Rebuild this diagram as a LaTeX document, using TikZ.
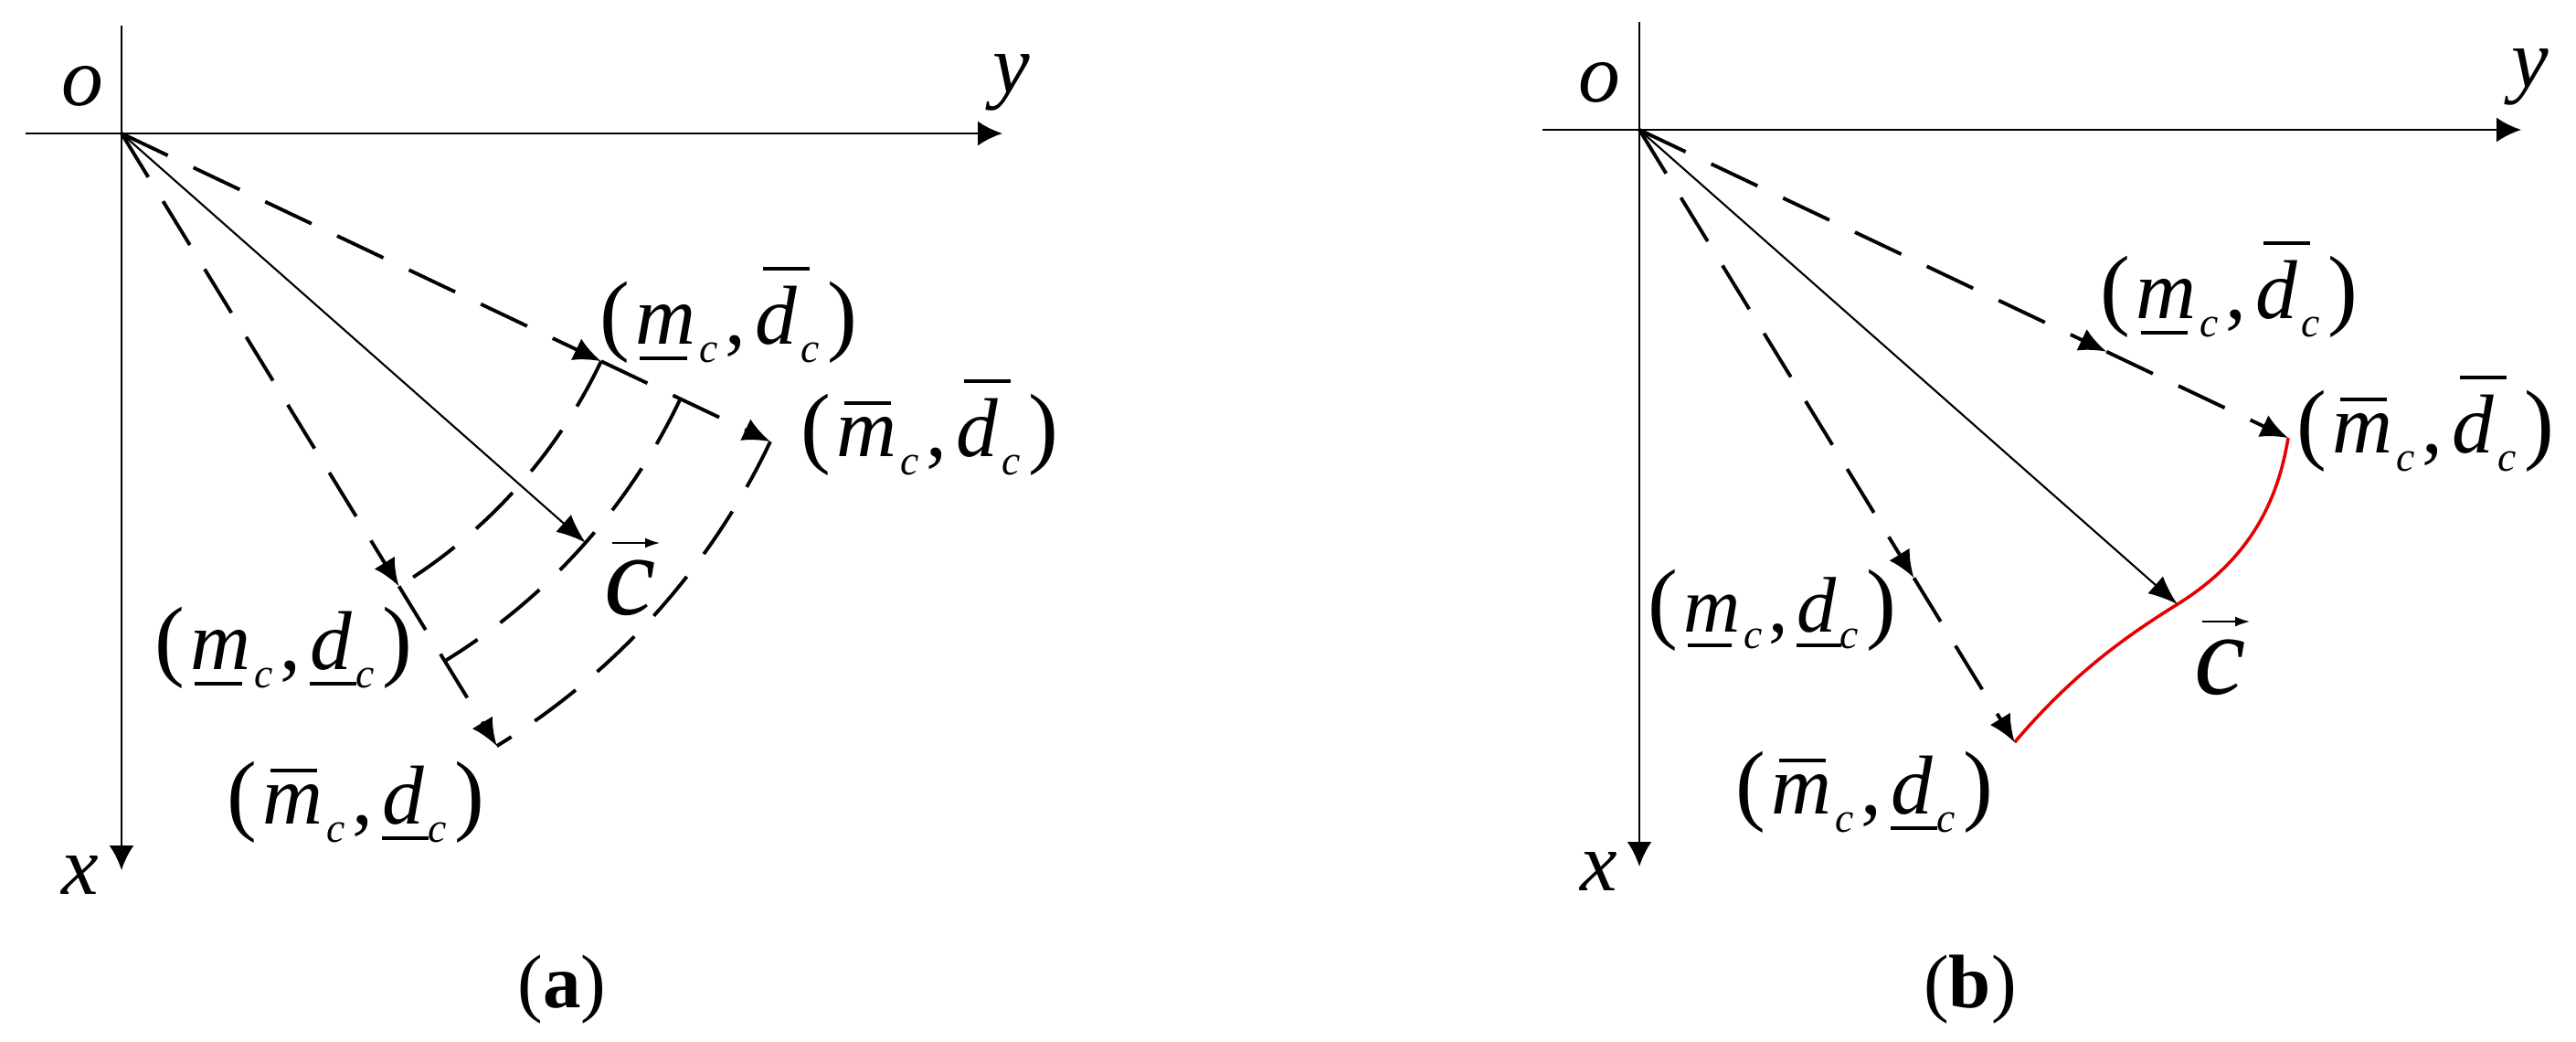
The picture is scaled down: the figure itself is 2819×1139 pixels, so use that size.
\documentclass[tikz,border=0pt]{standalone}
\usepackage{fontspec}
\setmainfont{Liberation Serif}
\usetikzlibrary{arrows.meta,calc}
\definecolor{cred}{RGB}{228,0,0}
\newcommand{\lsc}{\raisebox{-0.22em}{\fontsize{13}{13}\selectfont\itshape c}}
\newcommand{\om}{\rlap{\kern0.09em\raisebox{0.61em}{\rule{0.56em}{0.045em}}}{\itshape m}}
\newcommand{\od}{\rlap{\kern0.1em\raisebox{0.87em}{\rule{0.56em}{0.045em}}}{\itshape d}}
\newcommand{\um}{\rlap{\kern0.05em\raisebox{-0.2em}{\rule{0.56em}{0.045em}}}{\itshape m}}
\newcommand{\ud}{\rlap{\kern0.0em\raisebox{-0.2em}{\rule{0.56em}{0.045em}}}{\itshape d}}
\newcommand{\lpar}{{\fontsize{28}{30}\selectfont(}}
\newcommand{\rpar}{{\fontsize{28}{30}\selectfont)}}
\newcommand{\cpair}[2]{\lpar\kern0.07em#1\kern0.04em\lsc\kern0.08em,\kern0.11em#2\kern0.05em\lsc\kern0.1em\rpar}
\tikzset{
  axis/.style={line width=0.8pt, -{Latex[length=0.27cm,width=0.27cm]}},
  ray/.style={line width=1.1pt, dash pattern=on 0.56cm off 0.31cm, -{Latex[length=0.3cm,width=0.26cm]}},
  arcdash/.style={line width=1.1pt, dash pattern=on 0.56cm off 0.31cm},
  cvec/.style={line width=0.6pt, -{Latex[length=0.32cm,width=0.25cm]}},
  vecmark/.style={line width=0.5pt, -{Latex[length=0.16cm,width=0.11cm]}},
  redcurve/.style={cred, line width=1pt},
  lab/.style={font=\fontsize{26}{30}\selectfont, inner sep=0pt},
  axlab/.style={font=\fontsize{26}{30}\selectfont\itshape, inner sep=0pt},
  clab/.style={font=\fontsize{36}{40}\selectfont\itshape, inner sep=0pt},
  captext/.style={font=\fontsize{23.6}{28}\selectfont, inner sep=0pt},
}
\begin{document}
\begin{tikzpicture}[x=0.01cm, y=-0.01cm]
\useasboundingbox (0,0) rectangle (2819,1139);
% ---------------- panel (a)
\coordinate (Oa) at (133,146);
\coordinate (Ha) at (28,146);
\coordinate (Ya) at (1097,146);
\coordinate (Va) at (133,28);
\coordinate (Xa) at (133,952);
\draw[axis] (Ha) -- (Ya);
\draw[axis] (Va) -- (Xa);
\coordinate (Ua1) at ($(Oa)+(25.4:581)$);
\coordinate (Ua2) at ($(Oa)+(25.4:677)$);
\coordinate (Ua3) at ($(Oa)+(25.4:786)$);
\coordinate (La1) at ($(Oa)+(58.5:581)$);
\coordinate (La2) at ($(Oa)+(58.5:677)$);
\coordinate (La3) at ($(Oa)+(58.5:786)$);
\coordinate (Ca) at ($(Oa)+(41.4:677)$);
\draw[arcdash] (Ua1) arc[start angle=25.4, end angle=58.5, radius=581];
\draw[arcdash] (Ua2) arc[start angle=25.4, end angle=58.5, radius=677];
\draw[arcdash] (Ua3) arc[start angle=25.4, end angle=58.5, radius=786];
\draw[ray] (Oa) -- (Ua1);
\draw[ray] (Ua1) -- (Ua3);
\draw[ray] (Oa) -- (La1);
\draw[ray] (La1) -- (La3);
\draw[cvec] (Oa) -- (Ca);
\node[axlab] (oa) at (90,94) {o};
\node[axlab] (ya) at (1107,90) {y};
\node[axlab] (xa) at (88,957) {x};
\node[lab, anchor=base west] (labUa1) at (656,376) {\cpair{\um}{\od}};
\node[lab, anchor=base west] (labUa3) at (876,499) {\cpair{\om}{\od}};
\node[lab, anchor=base west] (labLa1) at (169,732) {\cpair{\um}{\ud}};
\node[lab, anchor=base west] (labLa3) at (248,901) {\cpair{\om}{\ud}};
\node[clab, anchor=base] (labCa) at (690,672) {c};
\coordinate (vaL) at ($(labCa.base)+(-20,-78)$);
\coordinate (vaR) at ($(labCa.base)+(32,-78)$);
\draw[vecmark] (vaL) -- (vaR);
\node[captext, anchor=base] (capa) at (615,1102) {(\textbf{a})};
% ---------------- panel (b)
\coordinate (Ob) at (1794,142);
\coordinate (Hb) at (1688,142);
\coordinate (Yb) at (2759,142);
\coordinate (Vb) at (1794,24);
\coordinate (Xb) at (1794,948);
\draw[axis] (Hb) -- (Yb);
\draw[axis] (Vb) -- (Xb);
\coordinate (Ub1) at ($(Ob)+(25.4:566)$);
\coordinate (Ub3) at ($(Ob)+(25.4:786)$);
\coordinate (Lb1) at ($(Ob)+(58.5:575)$);
\coordinate (Lb3) at ($(Ob)+(58.5:786)$);
\coordinate (Cb) at ($(Ob)+(41.4:785)$);
\draw[redcurve] (Ub3) .. controls (2493,545) and (2465,610) .. (Cb)
                      .. controls (2330,694) and (2270,735) .. (Lb3);
\draw[ray] (Ob) -- (Ub1);
\draw[ray] (Ub1) -- (Ub3);
\draw[ray] (Ob) -- (Lb1);
\draw[ray] (Lb1) -- (Lb3);
\draw[cvec] (Ob) -- (Cb);
\node[axlab] (ob) at (1750,90) {o};
\node[axlab] (yb) at (2769,84) {y};
\node[axlab] (xb) at (1750,953) {x};
\node[lab, anchor=base west] (labUb1) at (2298,348) {\cpair{\um}{\od}};
\node[lab, anchor=base west] (labUb3) at (2513,495) {\cpair{\om}{\od}};
\node[lab, anchor=base west, font=\fontsize{24.5}{28}\selectfont] (labLb1) at (1803,691) {\cpair{\um}{\ud}};
\node[lab, anchor=base west] (labLb3) at (1899,890) {\cpair{\om}{\ud}};
\node[clab, anchor=base] (labCb) at (2430,759) {c};
\coordinate (vbL) at ($(labCb.base)+(-20,-79)$);
\coordinate (vbR) at ($(labCb.base)+(32,-79)$);
\draw[vecmark] (vbL) -- (vbR);
\node[captext, anchor=base] (capb) at (2156,1102) {(\textbf{b})};
\end{tikzpicture}
\end{document}
